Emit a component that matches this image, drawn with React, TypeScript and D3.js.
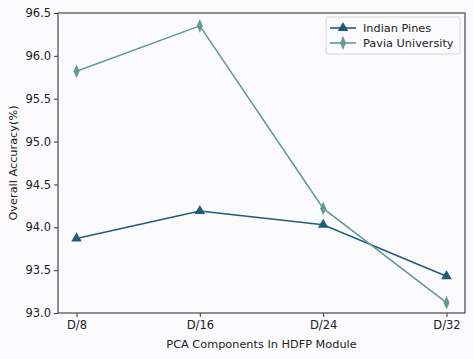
import React, { useRef, useEffect } from 'react';
import * as d3 from 'd3';

const categories = ['D/8', 'D/16', 'D/24', 'D/32'];
const indianPines = [93.87, 94.19, 94.03, 93.43];
const paviaUniversity = [95.82, 96.35, 94.22, 93.12];
const yTicks = [93.0, 93.5, 94.0, 94.5, 95.0, 95.5, 96.0, 96.5];

const W = 474;
const H = 359;
const margin = { top: 13, right: 9, bottom: 46, left: 58 };

const App = () => {
  const ref = useRef<SVGSVGElement>(null);

  useEffect(() => {
    const svg = d3.select(ref.current);
    svg.selectAll('*').remove();

    const x = d3.scalePoint()
      .domain(categories)
      .range([margin.left, W - margin.right])
      .padding(0.15);

    const y = d3.scaleLinear()
      .domain([93.0, 96.5])
      .range([H - margin.bottom, margin.top]);

    svg.append('rect').attr('width', W).attr('height', H).attr('fill', '#fbfbfd');

    const font = 'DejaVu Sans, sans-serif';

    // axes
    const yAxis = svg.append('g')
      .attr('transform', `translate(${margin.left},0)`)
      .call(d3.axisLeft(y).tickValues(yTicks).tickFormat(d3.format('.1f')).tickSize(4).tickPadding(3));
    yAxis.selectAll('text').attr('font-family', font).attr('font-size', 11.5).attr('fill', '#222');

    const xAxis = svg.append('g')
      .attr('transform', `translate(0,${H - margin.bottom})`)
      .call(d3.axisBottom(x).tickSize(4).tickPadding(4));
    xAxis.selectAll('text').attr('font-family', font).attr('font-size', 11.5).attr('fill', '#222');

    svg.selectAll('.domain').remove();
    svg.selectAll('.tick line').attr('stroke', '#333');

    // frame
    svg.append('rect')
      .attr('x', margin.left)
      .attr('y', margin.top)
      .attr('width', W - margin.left - margin.right)
      .attr('height', H - margin.top - margin.bottom)
      .attr('fill', 'none')
      .attr('stroke', '#4d4743')
      .attr('stroke-width', 1.2);

    const series = [
      { name: 'Indian Pines', values: indianPines, color: '#215b7b', symbol: d3.symbolTriangle, size: 48, sx: 1 },
      { name: 'Pavia University', values: paviaUniversity, color: '#629c8a', symbol: d3.symbolDiamond, size: 55, sx: 0.75 },
    ];

    const line = d3.line<number>()
      .x((_, i) => x(categories[i])!)
      .y(d => y(d));

    series.forEach(s => {
      svg.append('path')
        .datum(s.values)
        .attr('d', line)
        .attr('fill', 'none')
        .attr('stroke', s.color)
        .attr('stroke-width', 1.6);
      svg.selectAll(null)
        .data(s.values)
        .enter()
        .append('path')
        .attr('d', d3.symbol().type(s.symbol).size(s.size)())
        .attr('transform', (d, i) => `translate(${x(categories[i])},${y(d)}) scale(${s.sx},1)`)
        .attr('fill', s.color);
    });

    // legend
    const lg = svg.append('g').attr('transform', 'translate(326,17)');
    lg.append('rect')
      .attr('width', 134).attr('height', 37).attr('rx', 2)
      .attr('fill', '#fbfbfd').attr('stroke', '#d8d8d8');
    series.forEach((s, i) => {
      const ly = 11 + i * 15;
      lg.append('line').attr('x1', 4).attr('x2', 30).attr('y1', ly).attr('y2', ly)
        .attr('stroke', s.color).attr('stroke-width', 1.6);
      lg.append('path')
        .attr('d', d3.symbol().type(s.symbol).size(s.size)())
        .attr('transform', `translate(17,${ly}) scale(${s.sx},1)`)
        .attr('fill', s.color);
      lg.append('text').attr('x', 37).attr('y', ly + 4)
        .attr('font-family', font).attr('font-size', 11.3).attr('fill', '#222')
        .text(s.name);
    });

    // axis labels
    svg.append('text')
      .attr('x', (margin.left + W - margin.right) / 2)
      .attr('y', H - 11)
      .attr('text-anchor', 'middle')
      .attr('font-family', font).attr('font-size', 11.3).attr('fill', '#222')
      .text('PCA Components In HDFP Module');

    svg.append('text')
      .attr('transform', `translate(17,${(margin.top + H - margin.bottom) / 2}) rotate(-90)`)
      .attr('text-anchor', 'middle')
      .attr('font-family', font).attr('font-size', 11.3).attr('fill', '#222')
      .text('Overall Accuracy(%)');
  }, []);

  return (
    <svg ref={ref} width={W} height={H} style={{ position: 'absolute', left: 0, top: 0 }}></svg>
  );
};

export default App;
